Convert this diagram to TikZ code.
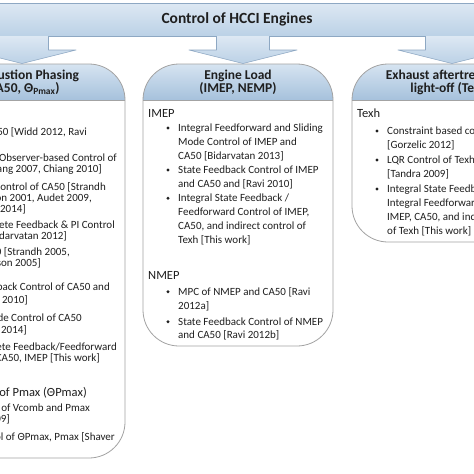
\documentclass[tikz,border=0pt]{standalone}
\usepackage{fontspec}
\setmainfont{Carlito}
\usetikzlibrary{calc}
\definecolor{bannerTop}{HTML}{DDE8F3}
\definecolor{bannerBot}{HTML}{BBD1E6}
\definecolor{bannerLine}{HTML}{8EA8C3}
\definecolor{headTop}{HTML}{D6E4F1}
\definecolor{headBot}{HTML}{A6C1DC}
\definecolor{boxLine}{HTML}{A3A3A3}
\definecolor{txt}{HTML}{1F1F1F}
\tikzset{
  banner/.style={draw=bannerLine, line width=0.7pt, top color=bannerTop, bottom color=bannerBot,
    minimum width=500pt, minimum height=33pt, inner sep=0pt, text=txt,
    font=\bfseries\fontsize{15.5}{18}\selectfont},
  colline/.style={draw=boxLine, line width=0.8pt},
  headtxt/.style={inner sep=0pt, text=txt, font=\bfseries\fontsize{13.5}{16}\selectfont},
  subhead/.style={inner sep=0pt, text=txt, font=\fontsize{12.5}{15}\selectfont},
  body/.style={inner sep=0pt, text=txt, font=\fontsize{11}{13}\selectfont},
}
\newcommand\HCcol[4]{% left, right, top, bottom
  \fill[white, rounded corners=36pt] ({(#1+#2)/2},#4) -| (#1,#3) -| (#2,#4) -- cycle;
  \shade[top color=headTop, bottom color=headBot, rounded corners=36pt] (#1,100) |- ({(#1+#2)/2},#3) -| (#2,100);
  \draw[colline] (#1,100) -- (#2,100);
  \draw[colline, rounded corners=36pt] ({(#1+#2)/2},#4) -| (#1,#3) -| (#2,#4) -- cycle;
}
\newcommand\HCarrow[1]{%
  \shade[top color=bannerTop, bottom color=bannerBot] (#1-26.5,36) -- (#1-26.5,50) -- (#1-54,50) -- (#1,63.5) -- (#1+54,50) -- (#1+26.5,50) -- (#1+26.5,36) -- cycle;
  \draw[draw=bannerLine, line width=0.6pt, line join=round] (#1-26.5,36) -- (#1-26.5,50) -- (#1-54,50) -- (#1,63.5) -- (#1+54,50) -- (#1+26.5,50) -- (#1+26.5,36);
}
\begin{document}
\begin{tikzpicture}[x=1pt,y=-1pt]
\useasboundingbox (0,0) rectangle (474,474);
\clip (0,0) rectangle (474,474);
\fill[white] (0,0) rectangle (474,474);

% columns
\HCcol{-80}{125}{64}{458}
\HCcol{143}{333}{64}{346}
\HCcol{352}{560}{64}{242}

% banner and block arrows
\node[banner] (top) at (237,19.5) {Control of HCCI Engines};
\HCarrow{22}
\HCarrow{243}
\HCarrow{452}

% headers
\node[headtxt, anchor=base] (hL1) at (22,79.5) {Combustion Phasing};
\node[headtxt, anchor=base] (hL2) at (22,92.5) {(CA50, Θ\textsubscript{Pmax})};
\node[headtxt, anchor=base] (hM1) at (238,79.5) {Engine Load};
\node[headtxt, anchor=base] (hM2) at (238,92.5) {(IMEP, NEMP)};
\node[headtxt, anchor=base] (hR1) at (451,79.5) {Exhaust aftertreatment};
\node[headtxt, anchor=base] (hR2) at (451,92.5) {light-off (Texh)};

% left column body
\foreach \yy/\xx/\txt [count=\i] in {
  132/87/{MPC of CA50 [Widd 2012, Ravi},
  158/117/{Nonlinear Observer-based Control of},
  169/102/{CA50 [Chiang 2007, Chiang 2010]},
  187/106/{PID Control of CA50 [Strandh},
  198/92/{Johansson 2001, Audet 2009,},
  209/26/{Shahbakhti 2014]},
  225/115/{Discrete Feedback \& PI Control},
  236/67/{[Bidarvatan 2012]},
  252/70/{LQR of CA50 [Strandh 2005,},
  263/41/{Haraldsson 2005]},
  287/110/{State Feedback Control of CA50 and},
  300/28/{IMEP [Ravi 2010]},
  318/82/{Sliding Mode Control of CA50},
  330/27/{[Bidarvatan 2014]},
  347/117/{Discrete Feedback/Feedforward},
  358/100/{Control of CA50, IMEP [This work]},
  408/90/{Control of Vcomb and Pmax},
  419/10/{[Shaver 2009]},
  437/115/{Control of ΘPmax, Pmax [Shaver}}
  \node[body, anchor=base east] (L\i) at (\xx,\yy+3.5) {\txt};
\node[subhead, anchor=base east] (Lh) at (87,396) {Location of Pmax (ΘPmax)};

% middle column body
\node[subhead, anchor=base west] (Mh1) at (148,117) {IMEP};
\foreach \yy/\txt [count=\i] in {
  128/{Integral Feedforward and Sliding},
  141.7/{Mode Control  of IMEP and},
  155.7/{CA50 [Bidarvatan 2013]},
  170/{State Feedback Control of IMEP},
  184/{and CA50 and [Ravi 2010]},
  198.3/{Integral State Feedback /},
  212.3/{Feedforward Control of IMEP,},
  226/{CA50, and indirect control of},
  240/{Texh [This work]},
  291.7/{MPC of NMEP and CA50 [Ravi},
  306/{2012a]},
  321.7/{State Feedback Control of NMEP},
  335/{and CA50 [Ravi 2012b]}}
  \node[body, anchor=base west] (M\i) at (178,\yy+3.5) {\txt};
\node[subhead, anchor=base west] (Mh2) at (148,279) {NMEP};
\foreach \yy in {128,170,198.3,291.7,321.7}
  \fill[txt] (168,\yy) circle (1.6);

% right column body
\node[subhead, anchor=base west] (Rh) at (357,117.5) {Texh};
\foreach \yy/\txt [count=\i] in {
  131/{Constraint based control},
  145/{[Gorzelic 2012]},
  160/{LQR Control of Texh},
  174/{[Tandra 2009]},
  189/{Integral State Feedback /},
  203/{Integral Feedforward Control of},
  217/{IMEP, CA50, and indirect control},
  231/{of Texh [This work]}}
  \node[body, anchor=base west] (R\i) at (387,\yy+3.5) {\txt};
\foreach \yy in {131,160,189}
  \fill[txt] (377,\yy) circle (1.6);
\end{tikzpicture}
\end{document}
